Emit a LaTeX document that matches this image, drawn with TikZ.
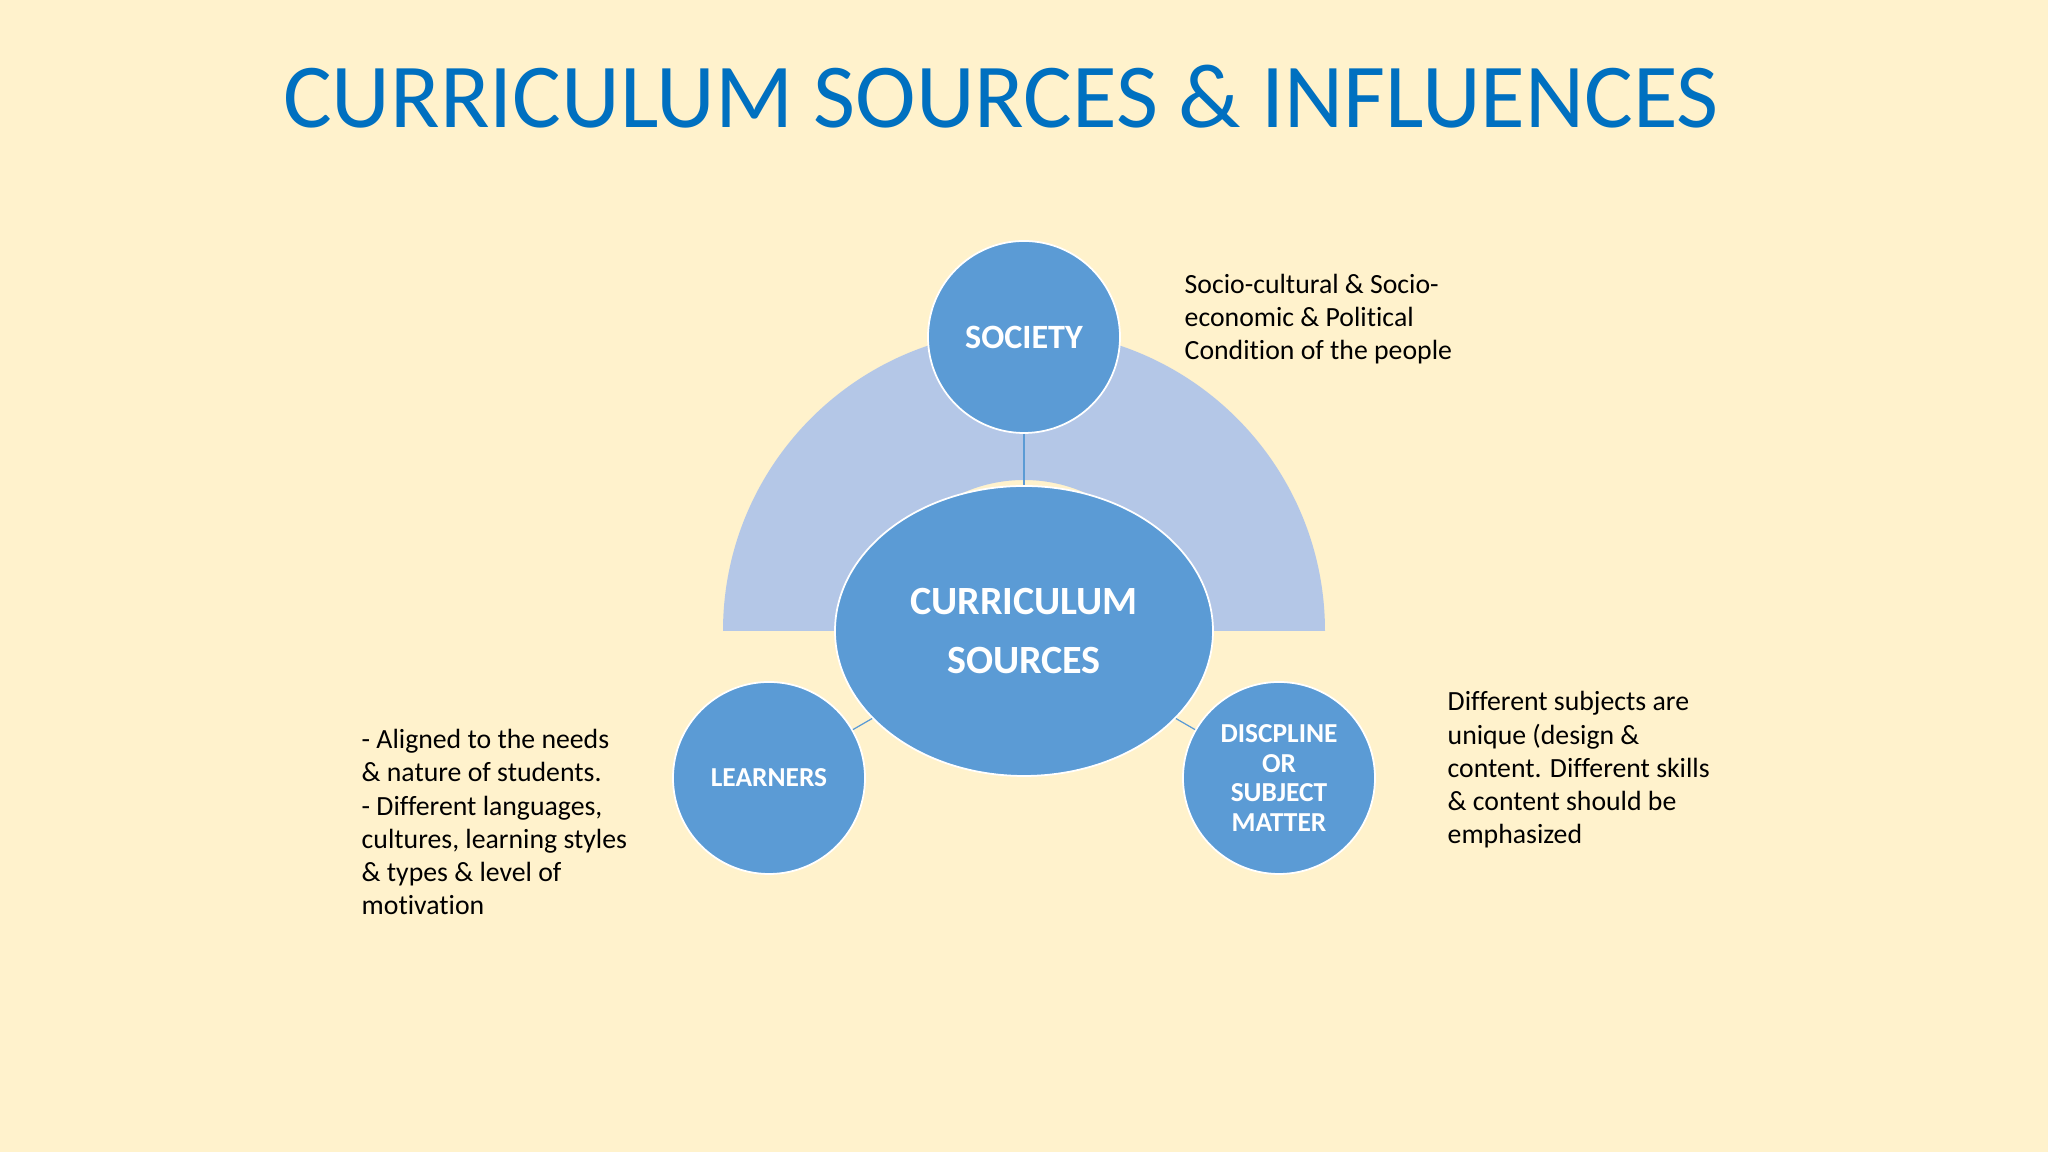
\documentclass[tikz,border=0pt]{standalone}
\usepackage{fontspec}
\setmainfont{Carlito}[Ligatures = NoCommon]
\usetikzlibrary{shapes.geometric}

\definecolor{paper}{HTML}{FFF2CC}
\definecolor{titleblue}{HTML}{0070C0}
\definecolor{srcblue}{HTML}{5B9BD5}
\definecolor{bandblue}{HTML}{B4C7E7}

\begin{document}
\begin{tikzpicture}[source/.style={circle, minimum size = 1.92cm, inner sep = 0pt, fill = srcblue, draw = white, line width = 0.5pt, text = white, font = \bfseries, align = center},
    note/.style={anchor = base west, align = left, inner sep = 0pt, font = \fontsize{7.9}{9.47}\selectfont},
    link/.style={draw = srcblue, line width = 0.35pt}]
    \useasboundingbox (0, 0) rectangle (20.48, 11.52);
    \fill[paper] (0, 0) rectangle (20.48, 11.52);

    \node at (10.01, 10.24) [anchor = base, inner sep = 0pt, text = titleblue, font = \fontsize{26}{31}\selectfont] (title) {CURRICULUM SOURCES \& INFLUENCES};

    % half ring behind the centre
    \fill[bandblue] (7.23, 5.21) arc[start angle = 180, end angle = 0, radius = 3.01] -- (11.75, 5.21) arc[start angle = 0, end angle = 180, radius = 1.51] -- cycle;

    \node at (10.24, 5.21) [ellipse, minimum width = 3.78cm, minimum height = 2.9cm, inner sep = 0pt, fill = srcblue, draw = white, line width = 0.5pt, text = white, font = \fontsize{11.4}{17}\bfseries, align = center] (cs) {CURRICULUM\\SOURCES};
    \node at (10.24, 8.15) [source, font = \fontsize{9.7}{11}\bfseries] (society) {SOCIETY};
    \node at (7.69, 3.74) [source, font = \fontsize{7.8}{8.5}\bfseries] (learners) {LEARNERS};
    \node at (12.79, 3.74) [source, font = \fontsize{7.8}{8.5}\bfseries] (discipline) {DISCPLINE\\OR\\SUBJECT\\MATTER};

    \draw[link] (society) -- (cs);
    \draw[link] (learners) -- (cs);
    \draw[link] (discipline) -- (cs);

    % notes sit on the baseline of their last line
    \node at (11.84, 7.92) [note] (societytext) {Socio-cultural \& Socio-\\economic \& Political\\Condition of the people};
    \node at (3.61, 2.37) [note] (learnerstext) {- Aligned to the needs\\\& nature of students.\\- Different languages,\\cultures, learning styles\\\& types \& level of\\motivation};
    \node at (14.47, 3.08) [note] (disciplinetext) {Different subjects are\\unique (design \&\\content. Different skills\\\& content should be\\emphasized};

\end{tikzpicture}
\end{document}
